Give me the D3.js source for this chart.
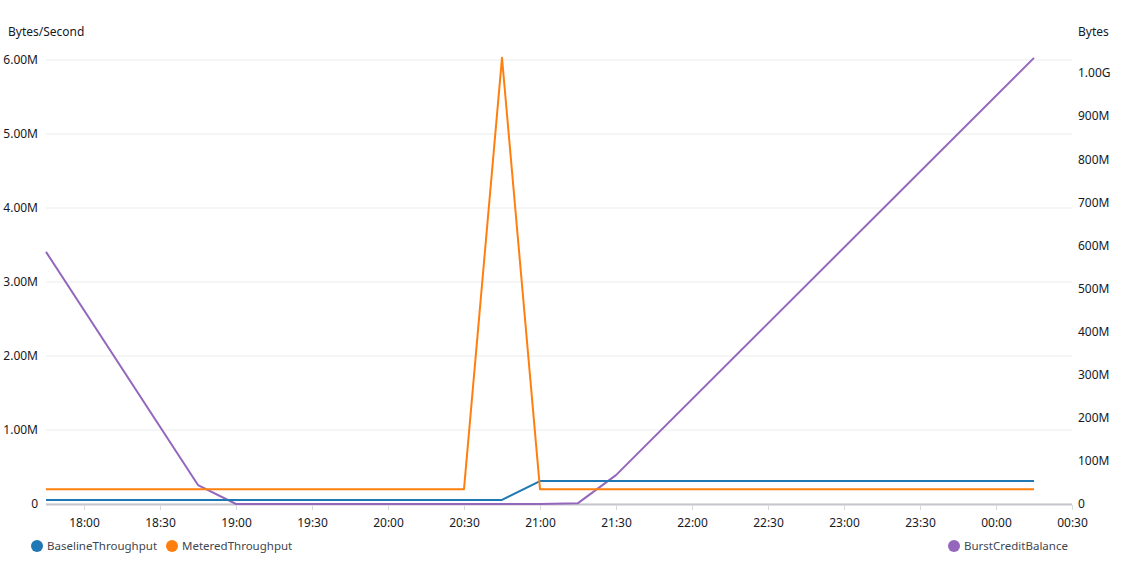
<!DOCTYPE html>
<html><head><meta charset="utf-8">
<script src="https://cdn.jsdelivr.net/npm/d3@7"></script>
<style>body{margin:0;background:#fff;}svg{display:block;font-family:"Noto Sans","Open Sans",sans-serif;}</style>
</head><body>
<svg id="c" width="1123" height="569"></svg>
<script>
// ---- data ----
const xTickLabels = ["18:00","18:30","19:00","19:30","20:00","20:30","21:00","21:30","22:00","22:30","23:00","23:30","00:00","00:30"];
const leftTickLabels = ["0","1.00M","2.00M","3.00M","4.00M","5.00M","6.00M"];
const rightTickLabels = ["0","100M","200M","300M","400M","500M","600M","700M","800M","900M","1.00G"];

const baselineTimes = ["17:45","20:45","21:00","00:15"];
const baselineValues = [0.055e6, 0.055e6, 0.31e6, 0.31e6];

const meteredTimes = ["17:45","20:30","20:45","21:00","00:15"];
const meteredValues = [0.2e6, 0.2e6, 6.03e6, 0.2e6, 0.2e6];

const burstTimes = ["17:45","18:45","19:00","21:00","21:15","21:30","00:15"];
const burstValues = [585e6, 44e6, 0, 0, 2e6, 67e6, 1035e6];

const seriesNames = ["BaselineThroughput","MeteredThroughput","BurstCreditBalance"];
const seriesColors = ["#1f77b4","#ff7f0e","#9467bd"];

// ---- helpers ----
function toDate(t){
  const [h,m] = t.split(":").map(Number);
  const day = h < 12 ? 2 : 1;
  return new Date(2023,0,day,h,m);
}
const svg = d3.select("#c");
const L = 46, R = 1072, T = 60, B = 504;

const x = d3.scaleTime().domain([toDate("17:45"), toDate("00:30")]).range([L,R]);
const yL = d3.scaleLinear().domain([0,6e6]).range([B,T]);
const yR = d3.scaleLinear().domain([0,1e9]).range([B,73]);

const textCol = "#16191f";

// gridlines
svg.append("g").selectAll("line").data(d3.range(0,7e6,1e6)).join("line")
  .attr("x1",L).attr("x2",R).attr("y1",d=>yL(d)).attr("y2",d=>yL(d))
  .attr("stroke","#eaeded").attr("stroke-width",1);

// x axis baseline
svg.append("line").attr("x1",L).attr("x2",R).attr("y1",B+0.5).attr("y2",B+0.5)
  .attr("stroke","#c6c6cd").attr("stroke-width",2);

// x axis
const xTickDates = xTickLabels.map(toDate);
const xa = svg.append("g").attr("transform",`translate(0,${B+1})`)
  .call(d3.axisBottom(x).tickValues(xTickDates).tickSize(5).tickPadding(8)
    .tickFormat((d,i)=>xTickLabels[i]));
xa.select(".domain").remove();
xa.selectAll(".tick line").attr("stroke","#d5dbdb");
xa.selectAll("text").attr("fill",textCol).style("font-size","12px").style("font-family","'Noto Sans','Open Sans',sans-serif");

// left axis
const la = svg.append("g").attr("transform",`translate(${L},0)`)
  .call(d3.axisLeft(yL).tickValues(d3.range(0,7e6,1e6)).tickSize(0).tickPadding(8)
    .tickFormat((d,i)=>leftTickLabels[i]));
la.select(".domain").remove();
la.selectAll("text").attr("fill",textCol).style("font-size","12px").style("font-family","'Noto Sans','Open Sans',sans-serif");

// right axis
const ra = svg.append("g").attr("transform",`translate(${R},0)`)
  .call(d3.axisRight(yR).tickValues(d3.range(0,1.1e9,1e8)).tickSize(0).tickPadding(6)
    .tickFormat((d,i)=>rightTickLabels[i]));
ra.select(".domain").remove();
ra.selectAll("text").attr("fill",textCol).style("font-size","12px").style("font-family","'Noto Sans','Open Sans',sans-serif");

// axis titles
svg.append("text").attr("x",8).attr("y",36).text("Bytes/Second")
  .attr("fill",textCol).style("font-size","12px");
svg.append("text").attr("x",1078).attr("y",36).text("Bytes")
  .attr("fill",textCol).style("font-size","12px");

// lines
function drawLine(times, values, yScale, color){
  const data = times.map((t,i)=>({t:toDate(t), v:values[i]}));
  svg.append("path").datum(data)
    .attr("fill","none").attr("stroke",color).attr("stroke-width",2)
    .attr("stroke-linejoin","round")
    .attr("d", d3.line().x(d=>x(d.t)).y(d=>yScale(d.v)));
}
drawLine(burstTimes, burstValues, yR, seriesColors[2]);
drawLine(baselineTimes, baselineValues, yL, seriesColors[0]);
drawLine(meteredTimes, meteredValues, yL, seriesColors[1]);

// legend
const legendPos = [[37,546],[172,546],[954,546]];
seriesNames.forEach((n,i)=>{
  const g = svg.append("g").attr("transform",`translate(${legendPos[i][0]},${legendPos[i][1]})`);
  g.append("circle").attr("r",6).attr("fill",seriesColors[i]);
  g.append("text").attr("x",10).attr("y",4).text(n).attr("fill","#414750").style("font-size","11.5px");
});
</script>
</body></html>
